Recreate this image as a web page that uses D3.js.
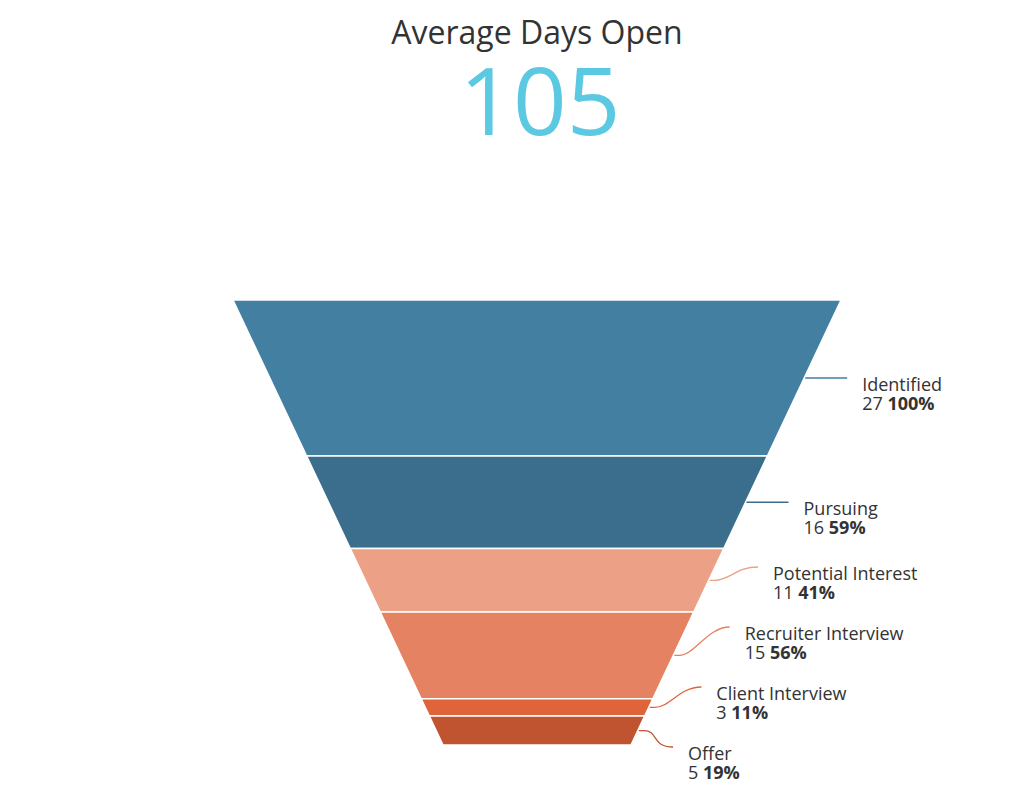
<!DOCTYPE html>
<html lang="en">
<head>
  <meta charset="utf-8">
  <title>Average Days Open funnel</title>
  <script type="text/javascript" src="https://d3js.org/d3.v7.min.js"></script>
  <style type="text/css">
    body { margin: 0; background: #fff; }
    svg { display: block; font-family: "Open Sans", sans-serif; }
  </style>
</head>
<body>
  <div id="chart"></div>
  <script type="text/javascript">

    // Data
    const stages = ['Identified', 'Pursuing', 'Potential Interest', 'Recruiter Interview', 'Client Interview', 'Offer'];
    const counts = [27, 16, 11, 15, 3, 5];
    const colors = ['#437fa1', '#3b6e8c', '#eca085', '#e58261', '#e0643a', '#c05430'];
    const titleText = 'Average Days Open';
    const bigNumber = 105;

    const width = 1024, height = 785;
    const cx = 537;             // funnel centre
    const funnelTop = 300, funnelBottom = 745;
    const topWidth = 608, bottomWidth = 188;
    const labelGap = 60;        // min vertical distance between labels
    const labelMaxY = 747;

    const svg = d3.select('#chart').append('svg')
      .attr('width', width)
      .attr('height', height);

    // header
    svg.append('text')
      .attr('x', cx).attr('y', 44)
      .attr('text-anchor', 'middle')
      .style('font-size', '32px')
      .style('fill', '#333')
      .text(titleText);

    svg.append('text')
      .attr('x', cx + 3).attr('y', 135)
      .attr('text-anchor', 'middle')
      .style('font-size', '94px')
      .style('fill', '#5bc9e1')
      .text(bigNumber);

    // cumulative values -> y, y -> half width
    const total = d3.sum(counts);
    const y = d3.scaleLinear().domain([0, total]).range([funnelTop, funnelBottom]);
    const halfW = d3.scaleLinear().domain([funnelTop, funnelBottom]).range([topWidth / 2, bottomWidth / 2]);
    const edgeAt = yy => cx + halfW(yy);

    let cum = 0;
    const segs = counts.map((v, i) => {
      const s = { name: stages[i], value: v, color: colors[i], y0: y(cum), y1: y(cum + v) };
      cum += v;
      s.mid = (s.y0 + s.y1) / 2;
      s.pct = Math.round(v / counts[0] * 100);
      return s;
    });

    // funnel slices
    svg.append('g').selectAll('path')
      .data(segs)
      .enter()
      .append('path')
      .attr('d', d => {
        const a = halfW(d.y0), b = halfW(d.y1);
        return `M${cx - a},${d.y0}L${cx + a},${d.y0}L${cx + b},${d.y1}L${cx - b},${d.y1}Z`;
      })
      .style('fill', d => d.color)
      .style('stroke', '#fff')
      .style('stroke-width', 1.5);

    // spread labels so they don't collide
    const ly = segs.map(d => d.mid);
    for (let i = 1; i < ly.length; i++) ly[i] = Math.max(ly[i], ly[i - 1] + labelGap);
    ly[ly.length - 1] = Math.min(ly[ly.length - 1], labelMaxY);
    for (let i = ly.length - 2; i >= 0; i--) ly[i] = Math.min(ly[i], ly[i + 1] - labelGap);
    segs.forEach((d, i) => { d.ly = ly[i]; d.lx = edgeAt(d.ly) + 43; });

    // connectors
    svg.append('g').selectAll('path')
      .data(segs)
      .enter()
      .append('path')
      .attr('d', d => {
        const x0 = edgeAt(d.mid) + 1, y0 = d.mid;
        if (Math.abs(d.ly - y0) < 2) return `M${x0},${y0}L${d.lx},${d.ly}`;
        return `M${x0},${y0}L${x0 + 5},${y0}C${x0 + 20},${y0} ${d.lx - 22},${d.ly} ${d.lx},${d.ly}`;
      })
      .style('fill', 'none')
      .style('stroke', d => d.color)
      .style('stroke-width', 1.3);

    // labels
    const labels = svg.append('g').selectAll('text')
      .data(segs)
      .enter()
      .append('text')
      .style('font-size', '18px')
      .style('fill', '#333');

    labels.append('tspan')
      .attr('x', d => d.lx + 15)
      .attr('y', d => d.ly + 13)
      .text(d => d.name);

    labels.append('tspan')
      .attr('x', d => d.lx + 15)
      .attr('y', d => d.ly + 32)
      .text(d => d.value + ' ');
    labels.append('tspan')
      .style('font-weight', 'bold')
      .text(d => d.pct + '%');

  </script>
</body>
</html>
